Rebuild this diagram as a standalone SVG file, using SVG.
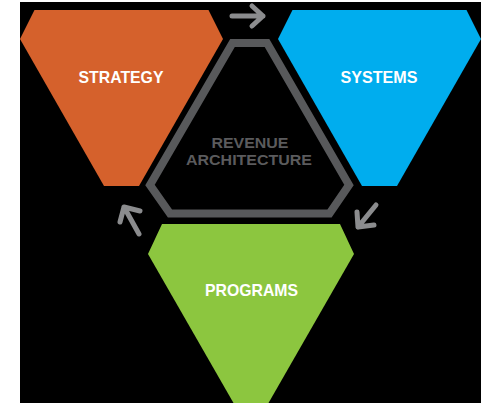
<svg xmlns="http://www.w3.org/2000/svg" width="500" height="403" viewBox="0 0 500 403">
<style>
.lbl{font-family:"Liberation Sans",Arial,sans-serif;font-weight:bold;font-size:17px;fill:#ffffff;text-anchor:middle}
.core{font-family:"Liberation Sans",Arial,sans-serif;font-weight:bold;font-size:15px;fill:#5b5b5d;text-anchor:middle}
.arr{fill:none;stroke:#8b8c8e;stroke-width:5;stroke-linecap:round;stroke-linejoin:round}
</style>
<rect x="0" y="0" width="500" height="403" fill="#ffffff"/>
<rect x="20" y="2" width="461" height="401" fill="#000000"/>
<g id="strategy">
<polygon points="34.5,10 208.5,10 223,39 139,186 104,186 20,39" fill="#d5612c"/>
<text class="lbl" x="121" y="82.5" textLength="85" lengthAdjust="spacingAndGlyphs">STRATEGY</text>
</g>
<g id="systems">
<polygon points="292.5,10 466.5,10 481,39 397,186 362,186 278,39" fill="#00adee"/>
<text class="lbl" x="379" y="82.5" textLength="77" lengthAdjust="spacingAndGlyphs">SYSTEMS</text>
</g>
<g id="programs">
<polygon points="162,224 340,224 354,254 268.5,403 233.5,403 148,254" fill="#8cc63f"/>
<text class="lbl" x="251.5" y="296" textLength="93" lengthAdjust="spacingAndGlyphs">PROGRAMS</text>
</g>
<g id="revenue-architecture">
<polygon points="232.5,43 267,43 349,185 329.5,213.5 170,213.5 150,185" fill="none" stroke="#58595b" stroke-width="8" stroke-linejoin="miter"/>
<text class="core" x="250" y="147.5" textLength="77" lengthAdjust="spacingAndGlyphs">REVENUE</text>
<text class="core" x="249" y="165" textLength="126" lengthAdjust="spacingAndGlyphs">ARCHITECTURE</text>
</g>
<g id="connectors">
<path class="arr" d="M232,16 H263 M252,6 L263,16 L252,26"/>
<path class="arr" d="M376,205 L358,227 M357,212 L358,227 L374,225"/>
<path class="arr" d="M139,234 L124,207 M120,222 L124,207 L140,211"/>
</g>
</svg>
